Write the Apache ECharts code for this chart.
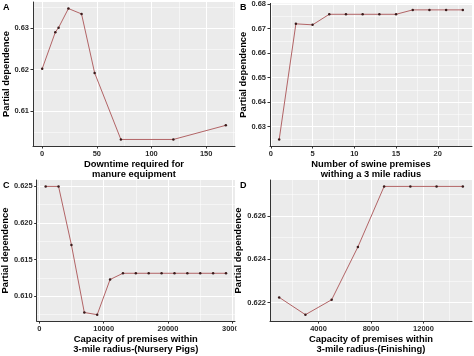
<!DOCTYPE html>
<html><head><meta charset="utf-8">
<script src="https://cdn.jsdelivr.net/npm/echarts@6/dist/echarts.min.js"></script>
<style>html,body{margin:0;padding:0;background:#fff}#c{width:474px;height:356px}</style>
</head><body><div id="c"></div>
<script>
// Panel A
const aX = [0, 12, 15, 24, 36, 48, 72, 120, 168];
const aY = [0.6202, 0.6290, 0.6301, 0.6347, 0.6334, 0.6192, 0.6032, 0.6032, 0.6066];
const aXTicks = [0, 50, 100, 150];
const aYTicks = [0.61, 0.62, 0.63];
// Panel B
const bX = [1, 3, 5, 7, 9, 11, 13, 15, 17, 19, 21, 23];
const bY = [0.6247, 0.6719, 0.6715, 0.6758, 0.6758, 0.6758, 0.6758, 0.6758, 0.6776, 0.6776, 0.6776, 0.6776];
const bXTicks = [0, 5, 10, 15, 20];
const bYTicks = [0.63, 0.64, 0.65, 0.66, 0.67, 0.68];
// Panel C
const cX = [1000, 3000, 5000, 7000, 9000, 11000, 13000, 15000, 17000, 19000, 21000, 23000, 25000, 27000, 29000];
const cY = [0.6250, 0.6250, 0.6170, 0.6078, 0.6075, 0.6123, 0.61315, 0.61315, 0.61315, 0.61315, 0.61315, 0.61315, 0.61315, 0.61315, 0.61315];
const cXTicks = [0, 10000, 20000, 30000];
const cYTicks = [0.610, 0.615, 0.620, 0.625];
// Panel D
const dX = [1000, 3000, 5000, 7000, 9000, 11000, 13000, 15000];
const dY = [0.62224, 0.62144, 0.62213, 0.62457, 0.62737, 0.62737, 0.62737, 0.62737];
const dXTicks = [4000, 8000, 12000];
const dYTicks = [0.622, 0.624, 0.626];

const letters = ['A', 'B', 'C', 'D'];
const xTitles = ['Downtime required for\nmanure equipment', 'Number of swine premises\nwithing a 3 mile radius',
  'Capacity of premises within\n3-mile radius-(Nursery Pigs)', 'Capacity of premises within\n3-mile radius-(Finishing)'];
const yTitle = 'Partial dependence';

const panels = [
  {x: aX, y: aY, xt: aXTicks, yt: aYTicks, yd: 2, left: 33, top: 2},
  {x: bX, y: bY, xt: bXTicks, yt: bYTicks, yd: 2, left: 270, top: 2},
  {x: cX, y: cY, xt: cXTicks, yt: cYTicks, yd: 3, left: 33, top: 180},
  {x: dX, y: dY, xt: dXTicks, yt: dYTicks, yd: 3, left: 270, top: 180}
];
const W = 202, H = 144;
const FONT = '"Liberation Sans", Arial, sans-serif';

function ext(arr) {
  const mn = Math.min(...arr), mx = Math.max(...arr), p = (mx - mn) * 0.05;
  return [mn - p, mx + p];
}
function minors(ticks, e) {
  const step = ticks.length > 1 ? ticks[1] - ticks[0] : 1;
  const out = [];
  for (let v = ticks[0] - step * 1.5; v <= e[1] + 1e-12; v += step) {
    const r = Math.round(v * 1e6) / 1e6;
    if (r >= e[0] && r <= e[1]) out.push(r);
  }
  return out;
}

const grid = [], xAxis = [], yAxis = [], series = [], graphic = [];
panels.forEach((p, i) => {
  grid.push({left: p.left, top: p.top, width: W, height: H, show: true, backgroundColor: '#EBEBEB', borderWidth: 0, containLabel: false});
  const xe = ext(p.x), ye = ext(p.y);
  const lab = {fontSize: 7.5, fontWeight: 'bold', color: '#2b2b2b', fontFamily: FONT};
  xAxis.push({type: 'value', gridIndex: i, min: xe[0], max: xe[1], position: 'bottom',
    axisLine: {show: true, onZero: false, lineStyle: {color: '#333', width: 1}},
    axisTick: {show: true, length: 2.5, lineStyle: {color: '#333', width: 1}, customValues: p.xt},
    axisLabel: Object.assign({margin: 4, customValues: p.xt, formatter: v => String(Math.round(v)), showMinLabel: true, showMaxLabel: true}, lab),
    splitLine: {show: true, lineStyle: {color: '#fff', width: 1}},
    name: xTitles[i], nameLocation: 'middle', nameGap: 10,
    nameTextStyle: {fontSize: 9.4, fontWeight: 'bold', color: '#000', fontFamily: FONT, lineHeight: 10.5, verticalAlign: 'top'}
  });
  yAxis.push({type: 'value', gridIndex: i, min: ye[0], max: ye[1], position: 'left',
    axisLine: {show: true, onZero: false, lineStyle: {color: '#333', width: 1}},
    axisTick: {show: true, length: 2.5, lineStyle: {color: '#333', width: 1}, customValues: p.yt},
    axisLabel: Object.assign({margin: 4, customValues: p.yt, formatter: v => v.toFixed(p.yd), showMinLabel: true, showMaxLabel: true}, lab),
    splitLine: {show: true, lineStyle: {color: '#fff', width: 1}},
    name: yTitle, nameLocation: 'middle', nameGap: 21, nameRotate: 90,
    nameTextStyle: {fontSize: 9.4, fontWeight: 'bold', color: '#000', fontFamily: FONT}
  });
  series.push({type: 'line', xAxisIndex: 2 * i, yAxisIndex: 2 * i,
    data: p.x.map((v, k) => [v, p.y[k]]),
    symbol: 'circle', symbolSize: 2.5, showSymbol: true,
    itemStyle: {color: '#3a1a1a'},
    lineStyle: {color: '#B26466', width: 1}, z: 5
  });
  xAxis.push({type: 'value', gridIndex: i, min: xe[0], max: xe[1], position: 'top',
    axisLine: {show: false}, axisLabel: {show: false},
    axisTick: {show: false, customValues: minors(p.xt, xe)},
    splitLine: {show: true, lineStyle: {color: '#fff', width: 0.5}}
  });
  yAxis.push({type: 'value', gridIndex: i, min: ye[0], max: ye[1], position: 'right',
    axisLine: {show: false}, axisLabel: {show: false},
    axisTick: {show: false, customValues: minors(p.yt, ye)},
    splitLine: {show: true, lineStyle: {color: '#fff', width: 0.5}}
  });
  graphic.push({type: 'text', left: p.left - 30, top: p.top + 1,
    style: {text: letters[i], font: 'bold 9px ' + FONT, fill: '#000'}});
});
graphic.push({type: 'rect', shape: {x: 236.5, y: 325, width: 12, height: 11}, style: {fill: '#fff'}, z: 100});

const chart = echarts.init(document.getElementById('c'), null, {renderer: 'canvas'});
chart.setOption({animation: false, backgroundColor: '#fff', grid, xAxis, yAxis, series, graphic});
</script></body></html>
